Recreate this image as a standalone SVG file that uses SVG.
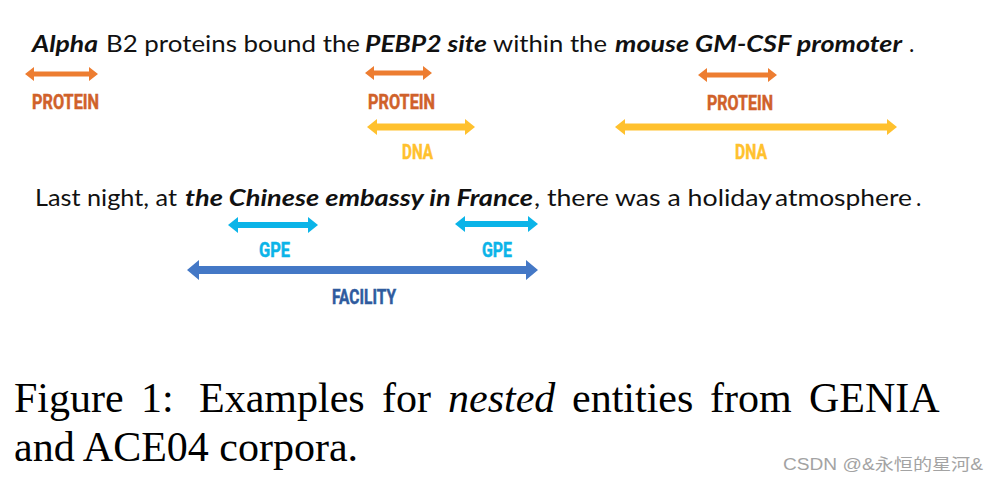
<svg xmlns="http://www.w3.org/2000/svg" width="996" height="482" viewBox="0 0 996 482">
<style>
.s{font-family:Lato,"Open Sans","Liberation Sans",sans-serif;font-size:22.5px;fill:#111}
.bi{font-weight:bold;font-style:italic}
.lab{font-family:"Liberation Sans Narrow",Roboto,"Liberation Sans",sans-serif;font-weight:bold;font-size:20px;stroke-width:0.5px}
.cap{font-family:"Liberation Serif","Times New Roman",serif;font-size:42px;fill:#000}
.protein{fill:#ED7D31}
.proteinT{fill:#D0612A;stroke:#D0612A}
.dna{fill:#FFC12E}
.dnaT{fill:#FFC12E;stroke:#FFC12E}
.gpe{fill:#0BB4E8}
.gpeT{fill:#0BB4E8;stroke:#0BB4E8}
.fac{fill:#4478C6}
.facT{fill:#2F5B9E;stroke:#2F5B9E}
</style>
<rect width="996" height="482" fill="#fff"/>
<g id="sentence1">
<text class="s" y="52"><tspan class="bi" x="32" textLength="66" lengthAdjust="spacingAndGlyphs">Alpha</tspan><tspan x="106" textLength="254" lengthAdjust="spacingAndGlyphs">B2 proteins bound the</tspan><tspan class="bi" x="365" textLength="122" lengthAdjust="spacingAndGlyphs">PEBP2 site</tspan><tspan x="493" textLength="114" lengthAdjust="spacingAndGlyphs">within the</tspan><tspan class="bi" x="615" textLength="287" lengthAdjust="spacingAndGlyphs">mouse GM-CSF promoter</tspan><tspan x="909">.</tspan></text>
</g>
<g id="sentence2">
<text class="s" y="206"><tspan x="35" textLength="142" lengthAdjust="spacingAndGlyphs">Last night, at</tspan><tspan class="bi" x="185" textLength="348" lengthAdjust="spacingAndGlyphs">the Chinese embassy in France</tspan><tspan x="534" textLength="238" lengthAdjust="spacingAndGlyphs">, there was a holiday</tspan><tspan x="775" textLength="137" lengthAdjust="spacingAndGlyphs">atmosphere</tspan><tspan x="916">.</tspan></text>
</g>
<g id="connectors">
<path class="protein" d="M25 74 L34 67 L34 71.5 L89 71.5 L89 67 L98 74 L89 81 L89 76.5 L34 76.5 L34 81 Z"/>
<path class="protein" d="M365 73 L374 66 L374 70.5 L423 70.5 L423 66 L432 73 L423 80 L423 75.5 L374 75.5 L374 80 Z"/>
<path class="protein" d="M698 75 L707 68 L707 72.5 L768 72.5 L768 68 L777 75 L768 82 L768 77.5 L707 77.5 L707 82 Z"/>
<path class="dna" d="M367 127 L377 119 L377 123.5 L465 123.5 L465 119 L475 127 L465 135 L465 130.5 L377 130.5 L377 135 Z"/>
<path class="dna" d="M615 127 L625 119 L625 123.5 L887 123.5 L887 119 L897 127 L887 135 L887 130.5 L625 130.5 L625 135 Z"/>
<path class="gpe" d="M228 225 L238 217 L238 222 L308 222 L308 217 L318 225 L308 233 L308 228 L238 228 L238 233 Z"/>
<path class="gpe" d="M455 224 L465 216 L465 221 L528 221 L528 216 L538 224 L528 232 L528 227 L465 227 L465 232 Z"/>
<path class="fac" d="M187 270 L199 260 L199 266 L526 266 L526 260 L538 270 L526 280 L526 274 L199 274 L199 280 Z"/>
</g>
<g id="protein1"><text class="lab proteinT" x="32" y="109" textLength="67" lengthAdjust="spacingAndGlyphs">PROTEIN</text></g>
<g id="protein2"><text class="lab proteinT" x="368" y="109" textLength="67" lengthAdjust="spacingAndGlyphs">PROTEIN</text></g>
<g id="protein3"><text class="lab proteinT" x="707" y="110" textLength="66" lengthAdjust="spacingAndGlyphs">PROTEIN</text></g>
<g id="dna1"><text class="lab dnaT" x="402" y="159" textLength="31" lengthAdjust="spacingAndGlyphs">DNA</text></g>
<g id="dna2"><text class="lab dnaT" x="735" y="159" textLength="32" lengthAdjust="spacingAndGlyphs">DNA</text></g>
<g id="gpe1"><text class="lab gpeT" x="259" y="257" textLength="31" lengthAdjust="spacingAndGlyphs">GPE</text></g>
<g id="gpe2"><text class="lab gpeT" x="482" y="257" textLength="30" lengthAdjust="spacingAndGlyphs">GPE</text></g>
<g id="facility"><text class="lab facT" x="332" y="304" textLength="64" lengthAdjust="spacingAndGlyphs">FACILITY</text></g>
<g id="caption">
<text class="cap" y="412"><tspan x="14">Figure</tspan><tspan x="141">1:</tspan><tspan x="199">Examples</tspan><tspan x="382">for</tspan><tspan x="448" font-style="italic">nested</tspan><tspan x="572">entities</tspan><tspan x="710">from</tspan><tspan x="809">GENIA</tspan></text>
<text class="cap" x="14" y="461">and ACE04 corpora.</text>
</g>
<g id="watermark">
<text x="783" y="470" font-family="'Liberation Sans','Noto Sans CJK SC',sans-serif" font-size="16" fill="#a3a3a3" textLength="200" lengthAdjust="spacingAndGlyphs">CSDN @&amp;永恒的星河&amp;</text>
</g>
</svg>
